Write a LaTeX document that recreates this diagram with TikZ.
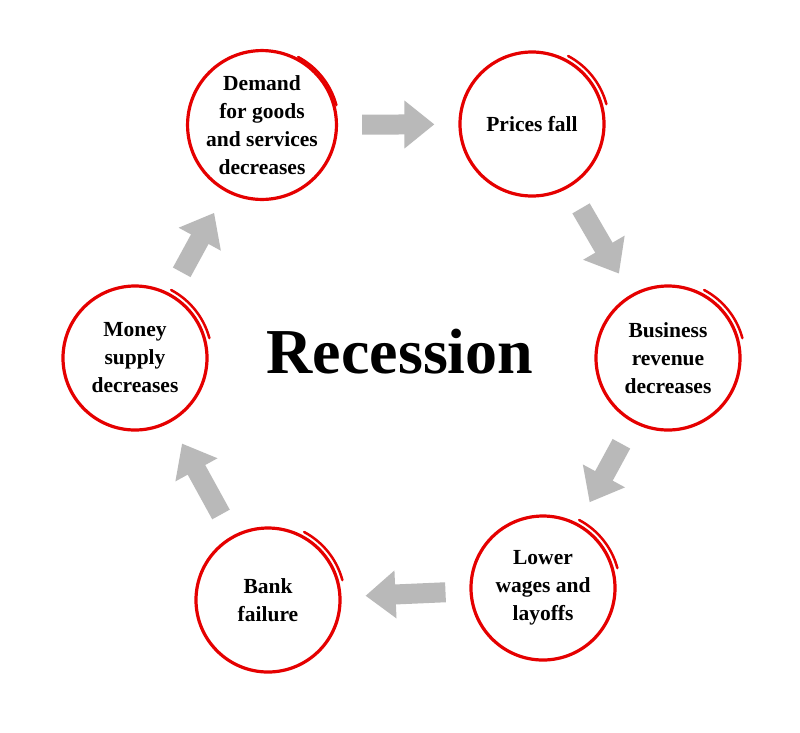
\documentclass[tikz,border=0pt]{standalone}
\usepackage{fontspec}
\setmainfont{Liberation Serif}
\usetikzlibrary{arrows.meta,calc}
\begin{document}
\begin{tikzpicture}[x=1pt,y=-1pt,
  ring/.style={circle,draw=red!90!black,line width=3.2pt,minimum size=144pt,inner sep=0pt,align=center,font=\bfseries\fontsize{21.5}{28}\selectfont},
  flow/.style={draw=gray!55,line width=20pt,-{Triangle[length=30pt,width=46pt]},shorten <=24pt,shorten >=24pt}]
\useasboundingbox (0,0) rectangle (800,732);
\fill[white] (0,0) rectangle (800,732);
\node[ring] (d) at (262,125) {Demand\\for goods\\and services\\decreases};
\node[ring] (p) at (532,124) {Prices fall};
\node[ring] (b) at (668,358) {Business\\revenue\\decreases};
\node[ring] (l) at (543,588) {Lower\\wages and\\layoffs};
\node[ring] (f) at (268,600) {Bank\\failure};
\node[ring] (m) at (135,358) {Money\\supply\\decreases};
\foreach \n in {d,p,b,l,f,m}
  \draw[red!90!black,line width=2.5pt,line cap=round] ($(\n)+(15:77pt)$) arc[start angle=15,end angle=62,radius=77pt];
\node (r) at (400,352) {\bfseries\fontsize{64}{66}\selectfont Recession};
\draw[flow] (d) -- (p);
\draw[flow] (p) -- (b);
\draw[flow] (b) -- (l);
\draw[flow] (l) -- (f);
\draw[flow] (f) -- (m);
\draw[flow] (m) -- (d);
\end{tikzpicture}
\end{document}
